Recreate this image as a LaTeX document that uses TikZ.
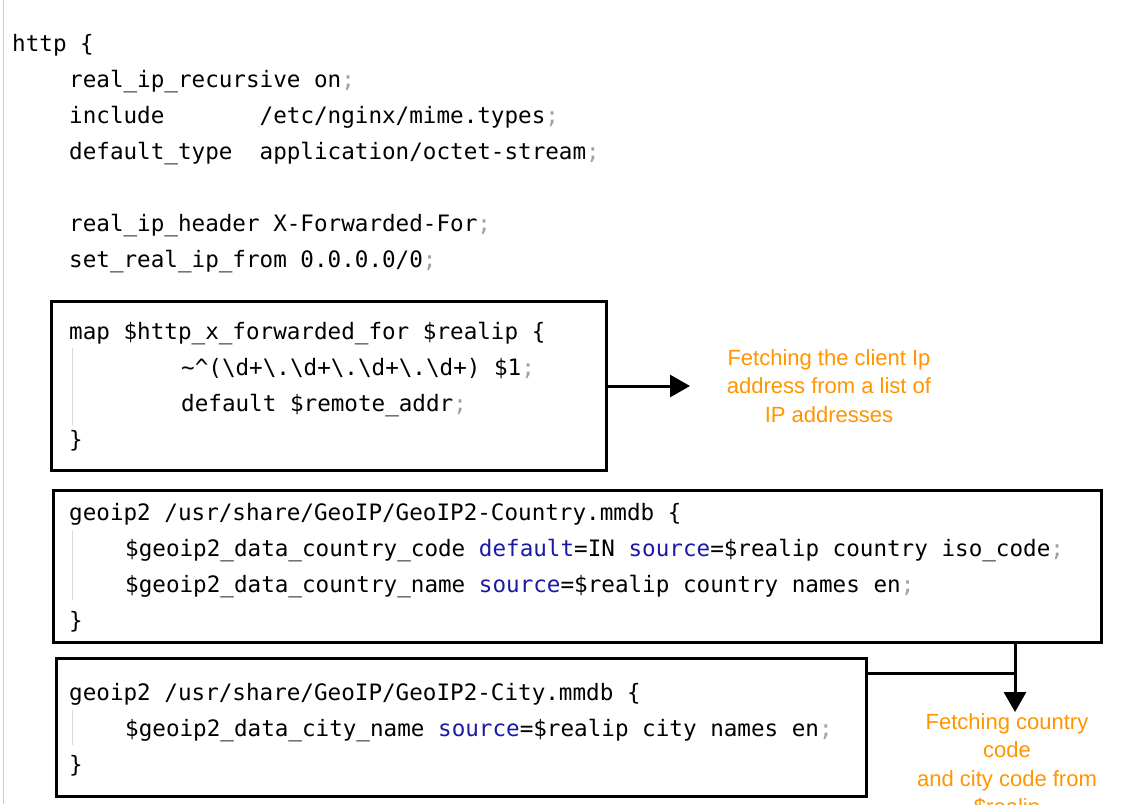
\documentclass[tikz,border=0pt]{standalone}
\usepackage{fontspec}
\setmonofont{DejaVu Sans Mono}
\setsansfont{Liberation Sans}
\usetikzlibrary{arrows.meta}
\definecolor{kw}{HTML}{1A1AA6}
\definecolor{semi}{HTML}{A0A0A0}
\definecolor{note}{HTML}{FF9500}
\newcommand\sm{\textcolor{semi}{;}}
\newcommand\kw[1]{\textcolor{kw}{#1}}
\begin{document}
\begin{tikzpicture}[x=1pt,y=-1pt,
  code/.style={anchor=base west,inner sep=0pt,font=\ttfamily\fontsize{22.6}{24}\selectfont},
  box/.style={draw,line width=3pt},
  notetxt/.style={align=center,text=note,font=\sffamily\fontsize{22}{28.5}\selectfont,inner sep=0pt},
  arr/.style={line width=3pt,-{Triangle[length=20pt,width=22pt]}}]
\clip (0,0) rectangle (1146,804);
\fill[white] (0,0) rectangle (1146,804);
\draw[gray!40,line width=1pt] (3,0) -- (3,804);
\node[code] (l1) at (12,51) {http \{};
\node[code] (l2) at (69,87) {real\_ip\_recursive on\sm};
\node[code] (l3) at (69,123) {include\ \ \ \ \ \ \ /etc/nginx/mime.types\sm};
\node[code] (l4) at (69,159) {default\_type\ \ application/octet-stream\sm};
\node[code] (l5) at (69,231) {real\_ip\_header X-Forwarded-For\sm};
\node[code] (l6) at (69,267) {set\_real\_ip\_from 0.0.0.0/0\sm};
% map box
\node[box,minimum width=555pt,minimum height=169pt,anchor=north west] (mapbox) at (50,300) {};
\draw[gray!30,line width=1pt] (72,348) -- (72,425);
\node[code] at (69,339) {map \$http\_x\_forwarded\_for \$realip \{};
\node[code] at (181,375) {\textasciitilde\textasciicircum(\textbackslash d+\textbackslash .\textbackslash d+\textbackslash .\textbackslash d+\textbackslash .\textbackslash d+) \$1\sm};
\node[code] at (181,411) {default \$remote\_addr\sm};
\node[code] at (69,447) {\}};
% geoip country
\node[box,minimum width=1048pt,minimum height=152pt,anchor=north west] (cbox) at (52,489) {};
\draw[gray!30,line width=1pt] (72,530) -- (72,600);
\node[code] at (69,520) {geoip2 /usr/share/GeoIP/GeoIP2-Country.mmdb \{};
\node[code] at (125,556) {\$geoip2\_data\_country\_code \kw{default}=IN \kw{source}=\$realip country iso\_code\sm};
\node[code] at (125,592) {\$geoip2\_data\_country\_name \kw{source}=\$realip country names en\sm};
\node[code] at (69,628) {\}};
% geoip city
\node[box,minimum width=810pt,minimum height=138pt,anchor=north west] (tbox) at (55,657) {};
\draw[gray!30,line width=1pt] (72,710) -- (72,745);
\node[code] at (69,700) {geoip2 /usr/share/GeoIP/GeoIP2-City.mmdb \{};
\node[code] at (125,736) {\$geoip2\_data\_city\_name \kw{source}=\$realip city names en\sm};
\node[code] at (69,772) {\}};
% notes
\node[notetxt] (n1) at (829,386) {Fetching the client Ip\\address from a list of\\IP addresses};
\node[notetxt,anchor=north] (n2) at (1007,713) {Fetching country\\code\\and city code from\\\$realip};
\coordinate (a1s) at (mapbox.east |- n1);
\draw[arr] (a1s) -- (690,386);
\coordinate (jt) at (1015,641);
\coordinate (jm) at (1015,673);
\draw[line width=3pt] (tbox.east |- jm) -- (jm);
\draw[arr] (jt) -- (1015,712);
\end{tikzpicture}
\end{document}
